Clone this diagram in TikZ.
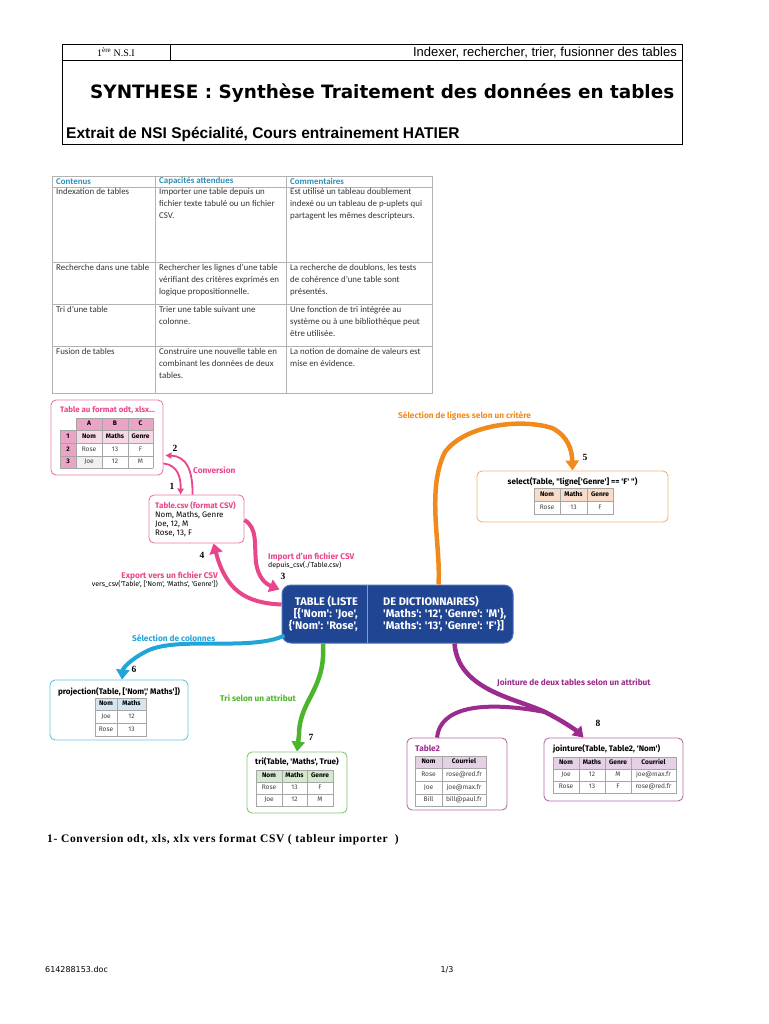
\documentclass[tikz,border=0pt]{standalone}
\usepackage{fontspec}
\setmainfont{Liberation Serif}
\newfontfamily\carlito{Carlito}
\newfontfamily\fira{Fira Sans}
\newfontfamily\arial{Liberation Sans}
\newfontfamily\dejavu{DejaVu Sans}
\usetikzlibrary{arrows.meta, calc, positioning}

\definecolor{pinkm}{HTML}{E8458B}
\definecolor{pinkbox}{HTML}{E77BA8}
\definecolor{pinkhd}{HTML}{EBA4C6}
\definecolor{pinklt}{HTML}{F6D8E6}
\definecolor{orangem}{HTML}{F08A1D}
\definecolor{orangebox}{HTML}{F2B27A}
\definecolor{peach}{HTML}{F6DCC9}
\definecolor{bluem}{HTML}{1FA5D8}
\definecolor{bluebox}{HTML}{62C4E8}
\definecolor{bluehd}{HTML}{D3E6F2}
\definecolor{greenm}{HTML}{4CB52C}
\definecolor{greenbox}{HTML}{82C870}
\definecolor{greenhd}{HTML}{D5E9CF}
\definecolor{purplem}{HTML}{9B2B8C}
\definecolor{purplebox}{HTML}{B46DAA}
\definecolor{purplehd}{HTML}{E5D0E6}
\definecolor{navy}{HTML}{1F4593}
\definecolor{navyedge}{HTML}{4A70BC}
\definecolor{headteal}{HTML}{2B8DBA}

\begin{document}
\begin{tikzpicture}[x=1pt, y=-1pt,
    >={Triangle[width=13pt,length=10pt]},
    txt/.style={font=\carlito\fontsize{8.9}{12}\selectfont, anchor=north west,
                align=left, inner sep=0pt, text=black!80},
    thd/.style={txt, anchor=west, font=\carlito\bfseries\fontsize{8.9}{10}\selectfont, text=headteal},
    lbl/.style={font=\fira\bfseries\fontsize{8.3}{9}\selectfont, inner sep=0pt},
    code/.style={font=\fira\fontsize{7}{8}\selectfont, inner sep=0pt},
    num/.style={font=\bfseries\fontsize{9.5}{10}\selectfont, inner sep=0pt},
    box/.style={draw, rounded corners=5pt, line width=0.9pt, fill=white, inner sep=0pt},
    boxtitle/.style={font=\fira\bfseries\fontsize{8.1}{9}\selectfont, inner sep=0pt},
    cel/.style={font=\fira\fontsize{6.6}{7}\selectfont, text=black!75, inner sep=0pt,
                text height=4.8pt, text depth=1.4pt},
    hcel/.style={cel, font=\fira\bfseries\fontsize{6.6}{7}\selectfont, text=black},
    grid/.style={gray!70, line width=0.5pt},
    ctxt/.style={font=\fira\bfseries\fontsize{11}{11.8}\selectfont, text=white, inner sep=0pt},
]
\useasboundingbox (0,0) rectangle (768,1024);

% header frame
\draw[line width=0.8pt] (62,44) rectangle (682,144);
\draw[line width=0.6pt] (62,60) -- (682,60) (170,44) -- (170,60);
\node[font=\fontsize{10}{11}\selectfont] (cls) at (116,52) {1\textsuperscript{ère} N.S.I};
\node[anchor=east, font=\arial\fontsize{13}{14}\selectfont, inner sep=0pt] (theme) at (677,52.5)
   {Indexer, rechercher, trier, fusionner des tables};
\node[anchor=west, font=\dejavu\bfseries\fontsize{18.4}{20}\selectfont, inner sep=0pt] (titre) at (90,93)
   {SYNTHESE : Synthèse Traitement des données en tables};
\node[anchor=west, font=\arial\bfseries\fontsize{15.5}{17}\selectfont, inner sep=0pt] (src) at (66,134)
   {Extrait de NSI Spécialité, Cours entrainement HATIER};

% programme table
\draw[gray!60, line width=0.6pt] (52,176) rectangle (432,393);
\foreach \yy in {187,262,304,346} \draw[gray!60, line width=0.6pt] (52,\yy) -- (432,\yy);
\foreach \xx in {155,286} \draw[gray!60, line width=0.6pt] (\xx,176) -- (\xx,393);
\node[thd] (h1) at (56,181.5) {Contenus};
\node[thd] (h2) at (159,181.5) {Capacités attendues};
\node[thd] (h3) at (290,181.5) {Commentaires};
\node[txt] (r1a) at (56,188.5) {Indexation de tables};
\node[txt] (r1b) at (159,188.5) {Importer une table depuis un\\fichier texte tabulé ou un fichier\\CSV.};
\node[txt] (r1c) at (290,188.5) {Est utilisé un tableau doublement\\indexé ou un tableau de p-uplets qui\\partagent les mêmes descripteurs.};
\node[txt] (r2a) at (56,264) {Recherche dans une table};
\node[txt] (r2b) at (159,264) {Rechercher les lignes d’une table\\vérifiant des critères exprimés en\\logique propositionnelle.};
\node[txt] (r2c) at (290,264) {La recherche de doublons, les tests\\de cohérence d’une table sont\\présentés.};
\node[txt] (r3a) at (56,306) {Tri d’une table};
\node[txt] (r3b) at (159,306) {Trier une table suivant une\\colonne.};
\node[txt] (r3c) at (290,306) {Une fonction de tri intégrée au\\système ou à une bibliothèque peut\\être utilisée.};
\node[txt] (r4a) at (56,348) {Fusion de tables};
\node[txt] (r4b) at (159,348) {Construire une nouvelle table en\\combinant les données de deux\\tables.};
\node[txt] (r4c) at (290,348) {La notion de domaine de valeurs est\\mise en évidence.};

% spreadsheet box
\node[box, draw=pinkbox, minimum width=112pt, minimum height=75pt] (odt) at (107,437.5) {};
\node[lbl, text=pinkm, anchor=west, font=\fira\bfseries\fontsize{7.9}{9}\selectfont] (odtt) at (60,410)
   {Table au format odt, xlsx…};
\fill[pinkhd] (76,418) rectangle (153,430) (60,430) rectangle (76,468);
\fill[pinklt] (76,430) rectangle (153,443);
\fill[gray!12] (76,456) rectangle (102,468);
\draw[grid] (76,418) -- (153,418) (60,430) -- (153,430) (60,443) -- (153,443)
   (60,456) -- (153,456) (60,468) -- (153,468)
   (60,430) -- (60,468) (76,418) -- (76,468) (102,418) -- (102,468)
   (128,418) -- (128,468) (153,418) -- (153,468);
\foreach \xc/\c/\h/\a/\b [count=\i] in {89/A/Nom/Rose/Joe, 115/B/Maths/13/12, 140.5/C/Genre/F/M} {
  \node[hcel] (oc\i) at (\xc,424) {\c};
  \node[hcel] (oh\i) at (\xc,436.5) {\h};
  \node[cel] (oa\i) at (\xc,449.5) {\a};
  \node[cel] (ob\i) at (\xc,462) {\b};
}
\foreach \yc/\r [count=\i] in {436.5/1, 449.5/2, 462/3} \node[hcel] (or\i) at (68,\yc) {\r};

% csv file box
\node[box, draw=pinkbox, minimum width=95pt, minimum height=48pt] (csv) at (196.5,519) {};
\node[anchor=west, align=left, font=\fira\fontsize{8}{9}\selectfont, inner sep=0pt] (csvt) at (155,519.5)
   {\textcolor{pinkm}{\bfseries Table.csv (format CSV)}\\Nom, Maths, Genre\\Joe, 12, M\\Rose, 13, F};

% central table node
\node[draw=navyedge, fill=navy, line width=1pt, rounded corners=9pt,
      minimum width=231pt, minimum height=58pt] (tbl) at (397.5,614) {};
\draw[navyedge!70!white, line width=0.8pt] ([xshift=-30.5pt]tbl.north) -- ([xshift=-30.5pt]tbl.south);
\node[ctxt, anchor=east, align=right] (tl) at (358,613.5)
   {TABLE (LISTE\\{[}\{'Nom': 'Joe',\\\{'Nom': 'Rose',};
\node[ctxt, anchor=west, align=left] (tr) at (383,613.5)
   {DE DICTIONNAIRES)\\'Maths': '12', 'Genre': 'M'\},\\'Maths': '13', 'Genre': 'F'\}{]}};

% select box
\node[box, draw=orangebox, minimum width=191pt, minimum height=51pt] (sel) at (572.5,496.5) {};
\node[boxtitle] (selt) at (572.5,482) {select(Table, "ligne['Genre'] == 'F' ")};
\fill[peach] (534,488) rectangle (613,501);
\draw[grid] (534,488) rectangle (613,514) (534,501) -- (613,501)
   (560,488) -- (560,514) (587,488) -- (587,514);
\foreach \xc/\h/\v [count=\i] in {547/Nom/Rose, 573.5/Maths/13, 600/Genre/F} {
  \node[hcel] (sh\i) at (\xc,494.5) {\h};
  \node[cel] (sv\i) at (\xc,507.5) {\v};
}

% projection box
\node[box, draw=bluebox, minimum width=138pt, minimum height=60pt] (proj) at (119,710) {};
\node[boxtitle] (projt) at (119,692) {projection(Table, ['Nom',' Maths'])};
\fill[bluehd] (95,698) rectangle (146,710);
\draw[grid] (95,698) rectangle (146,736) (95,710) -- (146,710) (95,723) -- (146,723)
   (117,698) -- (117,736);
\foreach \xc/\h/\a/\b [count=\i] in {106/Nom/Joe/Rose, 131.5/Maths/12/13} {
  \node[hcel] (ph\i) at (\xc,704) {\h};
  \node[cel] (pa\i) at (\xc,716.5) {\a};
  \node[cel] (pb\i) at (\xc,729.5) {\b};
}

% tri box
\node[box, draw=greenbox, minimum width=100pt, minimum height=61pt] (tri) at (297,782.5) {};
\node[boxtitle] (trit) at (297,762) {tri(Table, 'Maths', True)};
\fill[greenhd] (256,770) rectangle (333,782);
\draw[grid] (256,770) rectangle (333,806) (256,782) -- (333,782) (256,794) -- (333,794)
   (282,770) -- (282,806) (307,770) -- (307,806);
\foreach \xc/\h/\a/\b [count=\i] in {269/Nom/Rose/Joe, 294.5/Maths/13/12, 320/Genre/F/M} {
  \node[hcel] (th\i) at (\xc,776) {\h};
  \node[cel] (ta\i) at (\xc,788) {\a};
  \node[cel] (tb\i) at (\xc,800) {\b};
}

% table2 box
\node[box, draw=purplebox, minimum width=100pt, minimum height=72pt] (t2) at (457,774) {};
\node[lbl, text=purplem, anchor=west] (t2t) at (415,748) {Table2};
\fill[purplehd] (415,756) rectangle (486,768);
\draw[grid] (415,756) rectangle (486,806) (415,768) -- (486,768) (415,781) -- (486,781)
   (415,794) -- (486,794) (442,756) -- (442,806);
\foreach \xc/\h/\a/\b/\c [count=\i] in {428.5/Nom/Rose/Joe/Bill, 464/Courriel/rose@red.fr/joe@max.fr/bill@paul.fr} {
  \node[hcel] (uh\i) at (\xc,762) {\h};
  \node[cel] (ua\i) at (\xc,774.5) {\a};
  \node[cel] (ub\i) at (\xc,787.5) {\b};
  \node[cel] (uc\i) at (\xc,800) {\c};
}

% jointure box
\node[box, draw=purplebox, minimum width=139pt, minimum height=63pt] (join) at (613.5,769.5) {};
\node[boxtitle, anchor=west] (joint) at (553,749) {jointure(Table, Table2, 'Nom')};
\fill[purplehd] (553,757) rectangle (676,769);
\draw[grid] (553,757) rectangle (676,793) (553,769) -- (676,769) (553,781) -- (676,781)
   (579,757) -- (579,793) (605,757) -- (605,793) (631,757) -- (631,793);
\foreach \xc/\h/\a/\b [count=\i] in {566/Nom/Joe/Rose, 592/Maths/12/13, 618/Genre/M/F,
                                     653.5/Courriel/joe@max.fr/rose@red.fr} {
  \node[hcel] (jh\i) at (\xc,763) {\h};
  \node[cel] (ja\i) at (\xc,775) {\a};
  \node[cel] (jb\i) at (\xc,787) {\b};
}

% conversion arrows
\draw[pinkm, line width=1.8pt, -{Triangle[width=6pt,length=6pt]}]
   ([yshift=12pt]odt.south east) .. controls (178,465) and (181,478) .. ([xshift=-16pt]csv.north);
\draw[pinkm, line width=1.8pt, -{Triangle[width=6pt,length=6pt]}]
   ([xshift=-4pt]csv.north) .. controls (193,470) and (186,456) .. ([xshift=2pt,yshift=20pt]odt.south east);
\node[lbl, text=pinkm, anchor=west] (conv) at (193,470) {Conversion};
\node[num] (n2) at (175,448) {2};
\node[num] (n1) at (172,486) {1};

% import / export
\draw[pinkm, line width=4pt, ->]
   ([yshift=-1pt]csv.east) .. controls (258,528) and (254,545) .. (256,562)
   .. controls (258,578) and (266,584) .. ([xshift=-2pt,yshift=-5pt]tbl.north west);
\node[lbl, text=pinkm, anchor=west] (imp) at (268,557) {Import d’un fichier CSV};
\node[code, anchor=west] (impc) at (268,565.5) {depuis\_csv(./Table.csv)};
\node[num] (n3) at (283,576) {3};
\draw[pinkm, line width=4pt, ->]
   ([yshift=-20pt]tbl.north west) .. controls (245,603) and (226,590) .. ([xshift=17pt]csv.south);
\node[num] (n4) at (202,555) {4};
\node[lbl, text=pinkm, anchor=east] (exp) at (218,576) {Export vers un fichier CSV};
\node[code, anchor=east] (expc) at (218,584) {vers\_csv('Table', ['Nom', 'Maths', 'Genre'])};

% branches of the map
\draw[orangem, line width=4.5pt, ->]
   ([xshift=41pt]tbl.north) .. controls (441,545) and (426,490) .. (445,452)
   .. controls (465,425) and (520,418) .. (552,428) .. controls (568,436) and (572,450) .. (sel.north);
\node[lbl, text=orangem, anchor=west] (sell) at (398,416) {Sélection de lignes selon un critère};
\node[num] (n5) at (585,457) {5};

\draw[bluem, line width=4pt, ->]
   ([xshift=3pt,yshift=8pt]tbl.south west) .. controls (250,652) and (175,635) .. (145,652)
   .. controls (130,660) and (123,668) .. ([xshift=3pt]proj.north);
\node[lbl, text=bluem, anchor=west] (projl) at (132,638) {Sélection de colonnes};
\node[num] (n6) at (134,669) {6};

\draw[greenm, line width=4.5pt, ->]
   ([xshift=-74.5pt]tbl.south) .. controls (326,690) and (299,700) .. (299,735) -- (tri.north);
\node[lbl, text=greenm, anchor=west] (tril) at (220,698) {Tri selon un attribut};
\node[num] (n7) at (311,737) {7};

\coordinate (fork) at (545,712);
\draw[purplem, line width=4.5pt, ->]
   ([xshift=57pt]tbl.south) .. controls (458,690) and (515,698) .. (fork)
   .. controls (565,722) and (578,732) .. ([xshift=-30pt]join.north);
\draw[purplem, line width=4pt]
   (fork) .. controls (480,700) and (440,708) .. ([xshift=-20pt]t2.north);
\node[lbl, text=purplem, anchor=west] (joinl) at (497,683) {Jointure de deux tables selon un attribut};
\node[num] (n8) at (598,723) {8};

% below the map
\node[anchor=west, font=\bfseries\fontsize{11.5}{13}\selectfont\addfontfeature{LetterSpace=6}, inner sep=0pt] (q1) at (47,840)
   {1- Conversion odt, xls, xlx vers format CSV ( tableur importer \ )};
\node[anchor=west, font=\dejavu\fontsize{8}{9}\selectfont, inner sep=0pt] (fname) at (45,970) {614288153.doc};
\node[font=\dejavu\fontsize{8}{9}\selectfont, inner sep=0pt] (page) at (447,970) {1/3};
\end{tikzpicture}
\end{document}
